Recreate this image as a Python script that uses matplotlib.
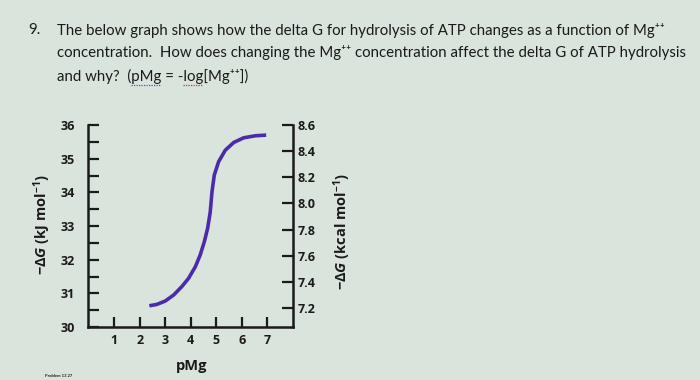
import matplotlib
matplotlib.use("Agg")
import matplotlib.pyplot as plt
from matplotlib.ticker import MultipleLocator, FormatStrFormatter

# curve (pMg, -dG in kJ/mol)
pmg = [2.38, 2.67, 3.00, 3.33, 3.65, 3.91, 4.18, 4.37, 4.53, 4.66,
       4.76, 4.83, 4.92, 5.09, 5.35, 5.68, 6.07, 6.53, 6.95]
dg_kj = [30.63, 30.67, 30.77, 30.95, 31.20, 31.44, 31.79, 32.14, 32.53, 32.93,
         33.40, 34.01, 34.51, 34.91, 35.25, 35.48, 35.62, 35.68, 35.70]

x_ticks = [1, 2, 3, 4, 5, 6, 7]
kj_ticks = [30, 31, 32, 33, 34, 35, 36]
kcal_ticks = [7.2, 7.4, 7.6, 7.8, 8.0, 8.2, 8.4, 8.6]

question = [
    "The below graph shows how the delta G for hydrolysis of ATP changes as a function of Mg\u207a\u207a",
    "concentration.  How does changing the Mg\u207a\u207a concentration affect the delta G of ATP hydrolysis",
    "and why?  (pMg = -log[Mg\u207a\u207a])",
]

bg = "#d9e4dd"
ink = "#1a1a1a"
curve_col = "#4a2bab"

q_family = ["Liberation Sans Narrow", "Lato", "DejaVu Sans"]
plt.rcParams["font.family"] = ["Lato", "DejaVu Sans"]
plt.rcParams["mathtext.fontset"] = "custom"
plt.rcParams["mathtext.rm"] = "Open Sans:bold"
plt.rcParams["mathtext.it"] = "Open Sans:bold:italic"

fig = plt.figure(figsize=(7, 3.8), dpi=100, facecolor=bg)

# question text, sized so the second line spans the same width as in the photo
q_size = 11.5
num = fig.text(28 / 700, 1 - 30 / 380, "9.", fontsize=q_size, color=ink,
               va="center", family=q_family)
q_texts = []
for i, line in enumerate(question):
    q_texts.append(fig.text(57 / 700, 1 - (30 + 23 * i) / 380, line,
                            fontsize=q_size, color=ink, va="center",
                            family=q_family))
renderer = fig.canvas.get_renderer()
w = q_texts[1].get_window_extent(renderer).width
q_size = q_size * 631 / w
for t in q_texts + [num]:
    t.set_fontsize(q_size)


def text_width(s):
    tmp = fig.text(0, 0, s, fontsize=q_size, family=q_family)
    wd = tmp.get_window_extent(renderer).width
    tmp.remove()
    return wd


# spell-check underlines under "pMg" and "log" in the last line
line3 = question[2]
bb = q_texts[2].get_window_extent(renderer)
y_ul = (bb.y0 - 1) / 380
for word, col in [("pMg", "#3b5bd6"), ("log", "#d03030")]:
    i0 = line3.index(word)
    x0 = bb.x0 + text_width(line3[:i0])
    x1 = x0 + text_width(word)
    fig.add_artist(plt.Line2D([x0 / 700, x1 / 700], [y_ul, y_ul],
                              color=col, lw=0.9, ls=(0, (1, 1))))

ax = fig.add_axes([88.5 / 700, 1 - 327 / 380, 204.5 / 700, 202 / 380])
ax.set_facecolor("none")
ax.plot(pmg, dg_kj, color=curve_col, lw=2.6, solid_capstyle="butt")

ax.set_xlim(0, 8)
ax.set_ylim(30, 36)
ax.set_xticks(x_ticks)
ax.set_yticks(kj_ticks)
ax.yaxis.set_minor_locator(MultipleLocator(0.5))

lab_font = dict(family=["Open Sans", "DejaVu Sans"], weight="bold")
for side in ["top", "right"]:
    ax.spines[side].set_visible(False)
for side in ["left", "bottom"]:
    ax.spines[side].set_linewidth(1.8)
    ax.spines[side].set_color(ink)

ax.tick_params(axis="x", direction="in", length=7.5, width=1.6, pad=5,
               colors=ink)
ax.tick_params(axis="y", which="both", direction="in", length=8, width=1.6,
               pad=10, colors=ink)
for t in ax.get_xticklabels() + ax.get_yticklabels():
    t.set_fontproperties(lab_font)
    t.set_fontsize(9)

ax.set_xlabel("pMg", fontsize=10.5, **lab_font, color=ink)
ax.xaxis.set_label_coords(0.506, -0.16)
ax.set_ylabel(r"$-\mathit{\Delta G}$ (kJ mol$^{-1}$)", fontsize=10.5,
              **lab_font, color=ink)
ax.yaxis.set_label_coords(-0.172, 0.505)

# right axis in kcal
ax2 = ax.twinx()
ax2.set_ylim(7.055, 8.6)
ax2.set_yticks(kcal_ticks)
ax2.yaxis.set_major_formatter(FormatStrFormatter("%.1f"))
for side in ["top", "left", "bottom"]:
    ax2.spines[side].set_visible(False)
ax2.spines["right"].set_linewidth(1.8)
ax2.spines["right"].set_color(ink)
ax2.tick_params(axis="y", direction="in", length=8, width=1.6, pad=3,
                colors=ink)
for t in ax2.get_yticklabels():
    t.set_fontproperties(lab_font)
    t.set_fontsize(9)
ax2.set_ylabel(r"$-\mathit{\Delta G}$ (kcal mol$^{-1}$)", fontsize=10.5,
               **lab_font, color=ink)
ax2.yaxis.set_label_coords(1.19, 0.475)

fig.text(45 / 700, 1 - 376 / 380, "Problem 13.27", fontsize=3,
         fontweight="bold", color=ink, va="center")

fig.savefig("out.png", dpi=100, facecolor=bg)
